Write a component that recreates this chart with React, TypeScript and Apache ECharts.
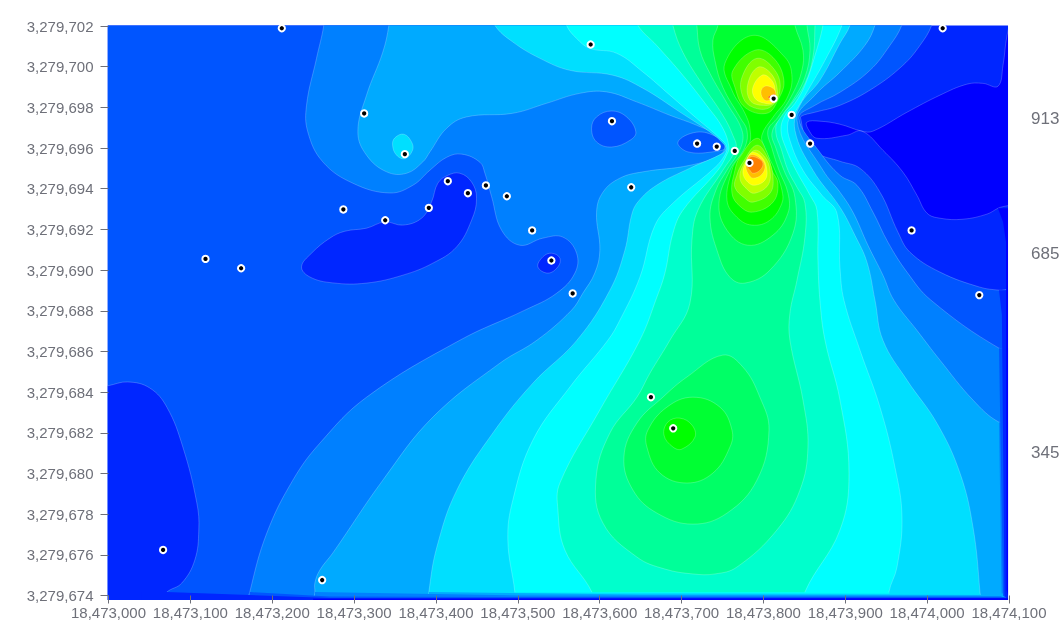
import React, { useEffect, useRef } from "react";
import * as echarts from "echarts";

// Survey coordinates: every contour vertex is [easting - ORIGIN_X, northing - ORIGIN_Y]
const ORIGIN_X = 18473000;
const ORIGIN_Y = 3279674;
const X_TICK_MAX = 18474100;
const Y_TICK_MAX = 3279702;

const stations = [
  [211.7, 27.89], [312.3, 23.7], [362, 21.7], [286.9, 18.98], [338, 18.45], [391.3, 19.06], [414.5, 20.37], [439, 19.78],
  [461, 20.16], [486.6, 19.63], [589, 27.09], [615, 23.32], [719, 22.22], [743, 22.07], [638.5, 20.07], [765, 21.86],
  [783, 21.27], [857, 22.22], [812.5, 24.43], [834.5, 23.63], [1019, 27.89], [981, 17.95], [1063.7, 14.77], [517.5, 17.95],
  [541, 16.47], [567, 14.85], [118.5, 16.55], [162, 16.09], [662.6, 9.75], [689.8, 8.22], [66.7, 2.24], [261, 0.76],
];

const sideLabels = ["913", "685", "345"];
const sideLabelNorthings = [3279697.45, 3279690.82, 3279681.05];

const sheet = [[-11, 28.53], [1107, 28.53], [1107, -0.71], [-11, -0.71]];
const imageBounds = [[-0.9, 28.03], [1098.8, -0.22]];

const lowestEast = [[920.4,22.83],[933.8,22.83],[975.4,23.76],[1015.7,24.6],[1048.6,25.14],[1068.2,25.18],[1086.5,25.04],[1092.7,26.07],[1097.6,27.54],[1103.6,28.28],[1107,24.35],[1107,19.43],[1086.5,19.04],[1073,18.75],[1043.8,18.5],[1015.7,18.55],[999.8,18.8],[987.5,19.68],[970.5,20.81],[946,21.89],[920.4,22.83],[902,22.63],[865.4,22.48],[855.6,22.87],[853,23.27],[869,23.32],[893.5,23.17]];

const level55 = [[-11,28.53],[1005.5,28.53],[1005.5,28.03],[991.3,27.05],[970.5,26.07],[933.8,24.94],[893.5,24.1],[863,23.76],[846,23.56],[846,23.37],[852,22.38],[865.4,21.75],[893.5,21.35],[918,21],[942.4,19.83],[964.4,17.86],[979,16.88],[1015.7,15.9],[1064.5,15.16],[1088,15.01],[1107,14.96],[1107,-0.71],[-11,-0.71]];
const lowSouthWest = [[-11,10.25],[-0.9,10.31],[23.6,10.5],[50.5,10.2],[71.3,9.26],[90.8,7.3],[107.9,4.55],[110.3,3.22],[105.4,1.74],[89.5,0.61],[71.3,0.17],[50.5,-0.71],[-11,-0.71]];
const lowCentre = [[235.8,16.16],[248,16.83],[270.4,17.57],[288.7,17.91],[315.2,18.06],[337.6,18.37],[359.6,18.21],[382.4,18.55],[394.6,19.35],[402.3,20.27],[414.5,20.66],[429.2,20.76],[443.5,20.33],[449.6,19.53],[443.5,18.45],[425.2,17.14],[396.2,16.34],[359.6,15.75],[315.2,15.36],[274,15.37],[246,15.66]];
const lowSmall = [[524.5,16.16],[530.6,16.65],[541.2,16.83],[551.4,16.59],[549,16.16],[536.7,15.85]];

const level80 = [[263,28.53],[263,28.03],[254.1,26.41],[241.9,24.1],[243.5,22.79],[261.8,21.32],[298.5,20.27],[343.7,19.79],[371.8,20.17],[392.6,20.91],[413.3,21.55],[431.7,21.7],[453.7,21.3],[459.8,20.76],[468,19.6],[480.2,17.96],[502.5,17.22],[530.6,17.57],[555.1,17.62],[571.8,16.83],[569.7,15.85],[547.4,14.86],[508.6,14.03],[429.2,12.55],[315.6,9.76],[258.2,7.49],[225.2,5.67],[193.4,3.07],[172.6,0.17],[170.2,-0.71],[1107,-0.71],[1107,12.11],[1087.8,12.16],[1004.7,14.52],[975.4,15.9],[952.1,17.37],[933.8,18.85],[914.2,20.17],[893.5,20.66],[869,21.79],[843.4,23.46],[863,24.1],[893.5,24.74],[930.1,25.82],[954.6,27.05],[968.9,28.03],[968.9,28.53]];
const low55A = [[590.1,22.97],[596.2,23.53],[614.5,23.82],[632.9,23.53],[644.2,22.79],[637,22.38],[614.5,22.05],[596.2,22.3]];
const low55B = [[695.6,22.3],[718.4,22.78],[743,22.54],[754.2,22.04],[743,21.84],[707.9,21.81]];

const levelAA = [[342.5,28.53],[342.5,28.03],[335.1,26.72],[315.2,24.6],[304.6,22.79],[315.2,21.65],[339.7,20.83],[364.1,20.76],[384,21.32],[392.6,21.81],[413,22.97],[437.4,23.53],[493.9,23.71],[535.1,24.2],[575.8,24.69],[608.4,24.76],[645,24.27],[685.8,23.61],[718.4,23.12],[746.9,22.55],[753,22.14],[746.9,21.65],[710.2,21.15],[652.8,20.83],[624.7,20.52],[604,19.83],[596.2,18.85],[600.2,16.98],[594,15.85],[579.4,14.86],[565.7,14.03],[523.3,12.55],[478,11.42],[396.2,8.77],[335.1,5.67],[274,2.09],[258.2,1.25],[252.1,0.62],[252.1,0.17],[250.9,-0.71],[1107,-0.71],[1107,8.47],[1087.8,8.52],[1056,9.61],[1015.7,11.57],[987.5,13.04],[959.4,14.52],[946,15.75],[927.7,17.22],[909.3,18.85],[893.5,19.83],[872.7,20.91],[841,23.37],[863,24.6],[893.5,25.73],[924,27.05],[936.2,28.03],[936.2,28.53]];
const highWest = [[347,22.14],[349.8,22.5],[360.8,22.68],[370.2,22.3],[371.4,21.89],[362,21.48],[351.9,21.65]];

const levelDF = [[472,28.53],[472,28.03],[494,27.21],[527,26.41],[563.6,25.82],[616.2,25.58],[652.8,24.94],[698,23.77],[734.6,22.79],[750.5,22.24],[754.2,21.99],[750.5,21.75],[710.2,21.01],[669.5,20.17],[646.7,19.35],[639,18.7],[630.8,16.98],[612.5,15.01],[572.2,12.55],[518.4,10.44],[469.5,7.99],[425.5,5.18],[401.1,2.38],[391.3,0.17],[390,-0.71],[1064.5,-0.71],[1064.5,0.17],[1056,3.37],[1040.1,6.02],[1012,8.47],[975.4,10.59],[946,12.55],[936.3,14.52],[926.5,16.39],[911.8,17.71],[893.5,19.09],[860.5,20.91],[838.5,22.87],[844.6,24.1],[869,25.33],[893.5,27.15],[905.7,28.03],[905.7,28.53]];
const levelFF = [[559.6,28.53],[559.6,28.03],[571.8,27.39],[588,26.9],[620.7,26.66],[652.8,25.74],[685.8,24.6],[718.4,23.46],[746.9,22.48],[755.4,22.04],[750.5,21.5],[737.1,20.91],[689.5,19.29],[667.5,18.2],[649.1,15.65],[624.7,13.54],[610,12.55],[563.6,10.25],[518.4,7.64],[493.9,4.69],[487.8,2.73],[496.4,0.17],[497.6,-0.71],[953.3,-0.71],[953.3,0.17],[963.2,1.4],[969.3,3.86],[960.7,6.31],[942.4,9.26],[918,12.06],[898.4,14.52],[893.5,16.14],[889.8,18.8],[871.5,19.68],[848.3,20.91],[832.4,22.38],[830,23.27],[838.5,23.76],[854.4,24.84],[875.2,26.31],[896,28.03],[896,28.53]];
const levelCC = [[646.7,28.53],[646.7,28.03],[669.5,27.05],[701.6,25.58],[730.6,24.1],[750.5,22.97],[757.9,22.04],[755,21.65],[744.4,20.91],[701.7,18.94],[689.5,17.81],[679.7,15.85],[669.9,14.67],[649.1,12.55],[600.2,9.12],[551.4,5.53],[549,4.2],[557.5,2.24],[590.5,0.17],[593,-0.71],[850.7,-0.71],[850.7,0.17],[893.5,3.22],[904.5,6.02],[893.5,9.61],[875.2,12.55],[869,14.52],[866.6,16.49],[865.4,18.94],[856.9,19.68],[839.7,20.91],[827.5,21.99],[821.4,22.87],[826.3,23.61],[838.5,24.2],[850.7,25.09],[863,26.56],[872.7,28.03],[872.7,28.53]];
const level99 = [[689.5,28.53],[689.5,28.03],[701.6,26.71],[726,25.09],[750.5,23.61],[762.7,22.63],[766.4,21.99],[750.5,20.91],[720,18.94],[712.7,17.47],[710.2,14.37],[685.8,12.55],[661.4,10.93],[645.5,9.75],[612.5,7.99],[595.4,5.68],[604,3.56],[645.5,1.89],[679.7,1.3],[713.9,1.06],[740.8,1.06],[767.7,1.4],[816.5,3.22],[844.6,5.18],[854.4,7.3],[848.3,9.61],[832.4,12.55],[832.4,13.88],[841,15.5],[850.7,17.62],[850.7,19.29],[841,20.07],[830,20.91],[821.4,21.99],[815.3,22.73],[817.7,23.37],[834.9,24.2],[850.7,25.18],[860.5,26.46],[863,28.03],[863,28.53]];
const level66 = [[718.8,28.53],[718.8,28.03],[722.5,26.81],[734.6,25.68],[755.5,24.2],[773.8,22.87],[772.5,22.04],[755.5,20.91],[742,19.93],[734.7,18.6],[744.5,16.83],[759.1,15.65],[777.4,15.36],[808,16],[836.1,17.81],[838.5,19.58],[825,20.91],[815.3,21.99],[810.4,22.73],[820.2,23.46],[836,24.35],[850.7,25.48],[856.9,26.81],[853.2,28.03],[853.2,28.53]];
const level33 = [[744.5,28.53],[744.5,28.03],[738.3,27.3],[740.8,26.31],[750.5,24.99],[771.3,23.51],[779.9,22.87],[777.4,22.04],[759.1,20.91],[745.7,19.29],[755.5,17.96],[781.1,17.22],[811.7,17.72],[830,18.8],[830,19.78],[819,20.91],[810.4,21.99],[805.5,22.87],[817.7,23.51],[836,24.69],[847,25.82],[848.3,26.81],[838.5,28.03],[838.5,28.53]];
const level00 = [[787.2,27.54],[753,26.17],[761.6,24.84],[777.4,23.71],[783.5,22.97],[782.3,22.14],[767.6,21.4],[761.6,20.91],[755.5,19.43],[767.6,18.6],[786,18.21],[807.9,18.45],[822.6,19.29],[822.6,19.93],[814.1,20.91],[801.8,21.99],[798.2,22.63],[811.6,23.51],[828.8,24.45],[834.9,25.48],[826.3,26.46]];

const south66 = [[750.5,11.82],[706.5,10.74],[677.2,9.75],[645.5,8.48],[629.6,6.81],[640.7,5.18],[670,4.05],[714,3.51],[755.5,4.05],[792.2,5.68],[806.8,8.13],[795.7,9.75],[775,11.23]];
const south33 = [[713.9,9.75],[682.1,9.26],[658.9,8.13],[657.7,7.3],[673.6,6.02],[706.6,5.53],[738.3,6.02],[759.1,7.3],[761.6,8.13],[746.9,9.26]];
const south00 = [[698,8.72],[683.4,8.53],[678.5,7.89],[689.5,7.3],[700.5,7.2],[716.4,7.79],[712.7,8.38]];

const northPeak1 = [[789.7,26.81],[762.8,25.82],[765.2,24.99],[777.4,24],[804.3,23.71],[817.7,24.35],[825,25.33],[811.6,26.46]];
const northPeak2 = [[792,26.41],[773.8,25.48],[775,24.5],[787.2,24],[808,24],[820.2,24.84],[814.1,25.82]];
const northPeak3 = [[793.3,25.97],[781.1,25.18],[783.6,24.35],[798.2,24.1],[814.1,24.25],[816.5,24.99],[808,25.72]];
const northPeak4 = [[798.2,25.58],[787.2,24.99],[789.6,24.45],[801.8,24.2],[811.7,24.25],[814.1,24.94],[808,25.43]];
const northPeak5 = [[801.8,25.04],[797,24.74],[801.8,24.35],[810.4,24.4],[815.3,24.6],[811.7,24.94]];
const northPeak6 = [[805.5,24.5],[814.1,24.64],[811.7,24.45]];

const southPeak1 = [[792,22.48],[771.3,21.55],[765.2,20.91],[761.6,19.78],[771.3,19.14],[787.2,18.85],[811.7,19.34],[817.7,20.27],[810.4,20.91],[804.3,21.79]];
const southPeak2 = [[792,22.14],[775,21.3],[767.6,20.66],[765.2,20.07],[777.4,19.53],[787.2,19.34],[808,19.78],[811.7,20.57],[805.5,21.5]];
const southPeak3 = [[789.6,21.89],[777.4,21.3],[771.3,20.52],[781.1,19.93],[789.7,19.78],[805.5,20.17],[808,20.91],[801.8,21.55]];
const southPeak4 = [[786,21.78],[778.7,21.3],[775,20.76],[781.1,20.32],[789.7,20.17],[801.8,20.42],[804.3,20.91],[798.2,21.55]];
const southPeak5 = [[783.6,21.65],[778.7,21.15],[781.1,20.76],[787.2,20.52],[798.2,20.71],[801.8,21.15],[794.5,21.55]];
const southPeak6 = [[783.6,21.55],[780,21.1],[783.6,20.91],[787.2,20.76],[795.8,20.91],[799.4,21.25],[793.3,21.5]];

// Thin rims where the interpolation falls away at the bottom and right of the sheet
const rimBottomFF = [[496.4,0.16],[953.3,0.16],[953.3,-0.8],[496.4,-0.8]];
const rimBottomDF = [[391.3,0.16],[1064.5,0.07],[1064.5,-0.8],[391.3,-0.8]];
const rimBottomAA = [[391.3,0.17],[650,0.05],[1088,0.03],[1088,-0.8],[391.3,-0.8]];
const rimBottom80 = [[252.1,0.17],[500,0],[1091,-0.03],[1091,-0.8],[252.1,-0.8]];
const rimBottom55 = [[172.6,0.17],[270,-0.05],[500,-0.07],[1095,-0.07],[1095,-0.8],[172.6,-0.8]];
const rimBottom22 = [[40,0.17],[71.3,0.17],[270,-0.12],[1100,-0.12],[1100,-0.8],[40,-0.8]];
const rimBottom00 = [[250,-0.16],[1100,-0.14],[1100,-0.8],[250,-0.8]];
const rimRight80 = [[1087.8,8.52],[1091,0.1],[1100,0.1],[1100,8.52]];
const rimRight55 = [[1087.8,12.16],[1092.8,0],[1100,-0.3],[1100,12.16]];
const rimRight22 = [[1087.8,15.01],[1091.3,13.8],[1094.5,0],[1100,-0.3],[1100,15.01]];
const rimRight00 = [[1086.5,19.04],[1092.7,18.36],[1096.4,17.37],[1097,0.27],[1100,-0.2],[1100,19.04]];

const C = {
  b0: "#0000ff", b1: "#0026ff", b2: "#0055ff", b3: "#0080ff", b4: "#00aaff", b5: "#00dfff", b6: "#00ffff",
  g1: "#00ffcc", g2: "#00ff99", g3: "#00ff66", g4: "#00ff33", g5: "#00ff00",
  y1: "#40ff00", y2: "#80ff00", y3: "#bfff00", y4: "#ffff00", y5: "#ffbf00", y6: "#ff8000", y7: "#ff5500",
};

// paint order: [vertices, colour, is a contour (smooth and stroked)]
const LAYERS: [number[][], string, boolean][] = [
  [sheet, C.b1, false],
  [lowestEast, C.b0, true],
  [level55, C.b2, true],
  [lowSouthWest, C.b1, true],
  [lowCentre, C.b1, true],
  [lowSmall, C.b1, true],
  [level80, C.b3, true],
  [low55A, C.b2, true],
  [low55B, C.b2, true],
  [levelAA, C.b4, true],
  [highWest, C.b5, true],
  [levelDF, C.b5, true],
  [levelFF, C.b6, true],
  [levelCC, C.g1, true],
  [level99, C.g2, true],
  [level66, C.g3, true],
  [south66, C.g3, true],
  [level33, C.g4, true],
  [south33, C.g4, true],
  [level00, C.g5, true],
  [south00, C.g5, true],
  [northPeak1, C.y1, true],
  [northPeak2, C.y2, true],
  [northPeak3, C.y3, true],
  [northPeak4, C.y4, true],
  [northPeak5, C.y5, true],
  [northPeak6, C.y7, true],
  [southPeak1, C.y1, true],
  [southPeak2, C.y2, true],
  [southPeak3, C.y3, true],
  [southPeak4, C.y4, true],
  [southPeak5, C.y5, true],
  [southPeak6, C.y6, true],
  [rimBottomFF, C.b6, false],
  [rimBottomDF, C.b5, false],
  [rimBottomAA, C.b4, false],
  [rimBottom80, C.b3, false],
  [rimRight80, C.b3, false],
  [rimBottom55, C.b2, false],
  [rimRight55, C.b2, false],
  [rimBottom22, C.b1, false],
  [rimRight22, C.b1, false],
  [rimBottom00, C.b0, false],
  [rimRight00, C.b0, false],
];

const FONT = "'Liberation Sans', Arial, sans-serif";
const TEXT = "#6E7079";

export default function App() {
  const ref = useRef<HTMLDivElement>(null);
  useEffect(() => {
    document.body.style.margin = "0";
    const chart = echarts.init(ref.current!, null, { renderer: "svg" });
    const grid = { left: 108.5, right: 50, top: 26, bottom: 44.5 };
    const axisCommon = {
      type: "value" as const,
      z: 5,
      axisLine: { show: false },
      axisTick: { show: true, length: 8, lineStyle: { color: TEXT, width: 1 } },
      splitLine: { show: false },
    };
    const fmt = (v: number) => v.toLocaleString("en-US");
    const option: any = {
      animation: false,
      textStyle: { fontFamily: FONT },
      grid,
      xAxis: {
        ...axisCommon,
        min: ORIGIN_X,
        max: X_TICK_MAX,
        interval: 100,
        axisLabel: { fontSize: 15, color: TEXT, margin: 9, fontFamily: FONT, formatter: fmt },
      },
      yAxis: {
        ...axisCommon,
        min: ORIGIN_Y,
        max: Y_TICK_MAX,
        interval: 2,
        axisLabel: { fontSize: 15, color: TEXT, margin: 15, padding: [0, 0, 4, 0], fontFamily: FONT, formatter: fmt },
      },
      series: [
        {
          type: "custom",
          z: 1,
          silent: true,
          clip: false,
          coordinateSystem: "cartesian2d",
          data: LAYERS.map((_, i) => [i]),
          encode: { x: -1, y: -1 },
          renderItem: (params: any, api: any) => {
            const [verts, color, contour] = LAYERS[params.dataIndex];
            const pt = (p: number[]) => api.coord([ORIGIN_X + p[0], ORIGIN_Y + p[1]]);
            const tl = pt(imageBounds[0]);
            const br = pt(imageBounds[1]);
            return {
              type: "polygon",
              shape: { points: verts.map(pt), smooth: contour ? 0.4 : 0 },
              style: {
                fill: color,
                stroke: contour ? "rgba(255,255,255,0.3)" : "none",
                lineWidth: contour ? 0.7 : 0,
              },
              clipPath: { type: "rect", shape: { x: tl[0], y: tl[1], width: br[0] - tl[0], height: br[1] - tl[1] } },
            };
          },
        },
        {
          type: "scatter",
          z: 10,
          silent: true,
          symbolSize: 6.3,
          itemStyle: { color: "#000", borderColor: "#fff", borderWidth: 2, opacity: 1 },
          data: stations.map((s) => [ORIGIN_X + s[0], ORIGIN_Y + s[1]]),
        },
      ],
    };
    chart.setOption(option);
    const rightLabels = sideLabels.map((text, i) => {
      const p = chart.convertToPixel({ xAxisIndex: 0, yAxisIndex: 0 }, [X_TICK_MAX, sideLabelNorthings[i]]);
      return {
        type: "text",
        x: p[0] + 22,
        y: p[1],
        style: { text, fontSize: 17, fontFamily: FONT, fill: TEXT, textAlign: "left", textVerticalAlign: "middle" },
      };
    });
    chart.setOption({ graphic: rightLabels });
    return () => chart.dispose();
  }, []);
  return <div ref={ref} style={{ position: "fixed", left: 0, top: 0, width: 1059, height: 640 }} />;
}
